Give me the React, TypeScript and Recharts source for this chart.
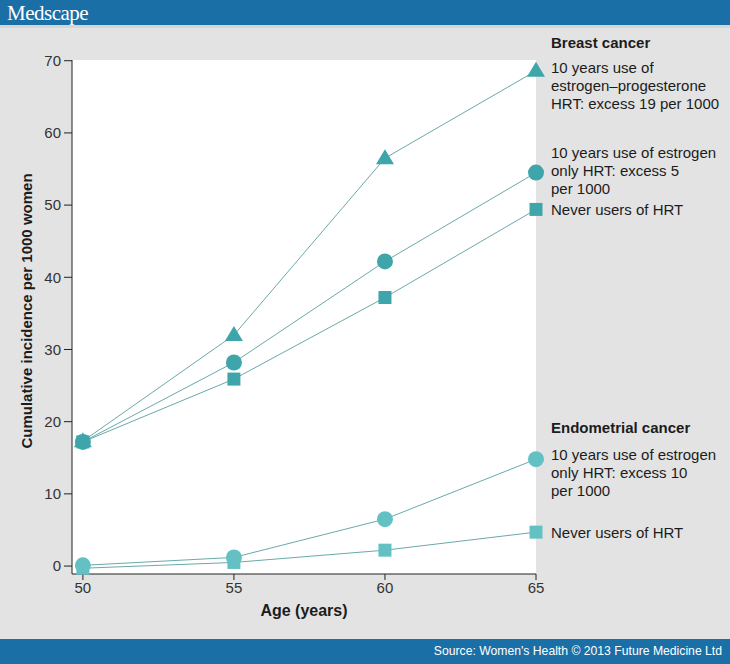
import React from 'react';
import { LineChart, Line, XAxis, YAxis, CartesianGrid } from 'recharts';

// age in years
const ages = [50, 55, 60, 65];

// cumulative incidence per 1000 women
const breastEstrogenProgesterone = [17.3, 32.0, 56.5, 68.6];
const breastEstrogenOnly = [17.2, 28.2, 42.2, 54.5];
const breastNever = [17.2, 25.9, 37.2, 49.4];
const endometrialEstrogenOnly = [0.1, 1.2, 6.5, 14.8];
const endometrialNever = [-0.3, 0.5, 2.2, 4.7];

const xTicks = [50, 55, 60, 65];
const yTicks = [0, 10, 20, 30, 40, 50, 60, 70];

const breastTitle = 'Breast cancer';
const breastEPNote = ['10 years use of', 'estrogen\u2013progesterone', 'HRT: excess 19 per 1000'];
const breastENote = ['10 years use of estrogen', 'only HRT: excess 5', 'per 1000'];
const neverNote = ['Never users of HRT'];
const endoTitle = 'Endometrial cancer';
const endoENote = ['10 years use of estrogen', 'only HRT: excess 10', 'per 1000'];

const rows = ages.map((age, i) => ({
  age,
  breastEP: breastEstrogenProgesterone[i],
  breastE: breastEstrogenOnly[i],
  breastNever: breastNever[i],
  endoE: endometrialEstrogenOnly[i],
  endoNever: endometrialNever[i],
}));

const BREAST = '#3ea6ab';
const ENDO = '#63c1c4';
const LINE = '#6aa9aa';
const FONT = '"Liberation Sans", Arial, Helvetica, sans-serif';

const triangleDot = (fill: string) => (p: any) => (
  <polygon
    key={`t-${p.index}`}
    points={`${p.cx},${p.cy - 9} ${p.cx + 9},${p.cy + 6} ${p.cx - 9},${p.cy + 6}`}
    fill={fill}
  />
);
const circleDot = (fill: string, r: number) => (p: any) => (
  <circle key={`c-${p.index}`} cx={p.cx} cy={p.cy} r={r} fill={fill} />
);
const squareDot = (fill: string, s: number) => (p: any) => (
  <rect key={`s-${p.index}`} x={p.cx - s / 2} y={p.cy - s / 2} width={s} height={s} fill={fill} />
);

const Note = ({ top, lines, bold }: { top: number; lines: string[]; bold?: boolean }) => (
  <div
    style={{
      position: 'absolute',
      left: 551,
      top,
      fontSize: 15,
      lineHeight: '18px',
      color: '#1c1c1c',
      fontWeight: bold ? 'bold' : 'normal',
      whiteSpace: 'nowrap',
    }}
  >
    {lines.map((l) => (
      <div key={l}>{l}</div>
    ))}
  </div>
);

const YLabel = (props: any) => {
  const vb = props.viewBox;
  const y = vb.y + vb.height / 2 - 6;
  return (
    <text
      x={26}
      y={y}
      transform={`rotate(-90, 26, ${y})`}
      textAnchor="middle"
      dominantBaseline="central"
      fontFamily={FONT}
      fontWeight="bold"
      fontSize={15}
      fill="#1c1c1c"
    >
      Cumulative incidence per 1000 women
    </text>
  );
};

export default function App() {
  return (
    <div
      style={{
        position: 'absolute',
        left: 0,
        top: 0,
        width: 730,
        height: 664,
        background: '#e3e3e3',
        fontFamily: FONT,
        overflow: 'hidden',
      }}
    >
      <div
        style={{
          position: 'absolute',
          left: 0,
          top: 0,
          width: 730,
          height: 25,
          background: '#1a6fa7',
          borderBottom: '3px solid #d6d6d6',
        }}
      >
        <span
          style={{
            position: 'absolute',
            left: 7,
            top: 1,
            color: '#fff',
            fontFamily: '"Liberation Serif", "DejaVu Serif", serif',
            fontSize: 21,
            letterSpacing: -0.5,
          }}
        >
          Medscape
        </span>
      </div>

      <div style={{ position: 'absolute', left: 0, top: 0 }}>
        <LineChart
          width={730}
          height={638}
          data={rows}
          margin={{ top: 60, right: 194, bottom: 14, left: 12 }}
        >
          <CartesianGrid fill="#ffffff" horizontal={false} vertical={false} stroke="none" />
          <XAxis
            dataKey="age"
            type="number"
            domain={[49.64, 65]}
            ticks={xTicks}
            height={50}
            axisLine={{ stroke: '#222' }}
            tickLine={{ stroke: '#222' }}
            tickSize={6}
            tickMargin={2}
            tick={{ fill: '#333', fontSize: 15, fontFamily: FONT }}
            label={{
              value: 'Age (years)',
              position: 'insideBottom',
              offset: 8,
              fill: '#1c1c1c',
              fontSize: 16,
              fontWeight: 'bold',
              fontFamily: FONT,
            }}
          />
          <YAxis
            type="number"
            domain={[-1.1, 70.1]}
            ticks={yTicks}
            width={60}
            axisLine={{ stroke: '#222' }}
            tickLine={{ stroke: '#222' }}
            tickSize={8}
            tickMargin={3}
            tick={{ fill: '#333', fontSize: 15, fontFamily: FONT }}
            label={<YLabel />}
          />
          <Line
            dataKey="endoNever"
            type="linear"
            stroke={LINE}
            strokeWidth={1}
            dot={squareDot(ENDO, 13)}
            activeDot={false}
            isAnimationActive={false}
          />
          <Line
            dataKey="endoE"
            type="linear"
            stroke={LINE}
            strokeWidth={1}
            dot={circleDot(ENDO, 8)}
            activeDot={false}
            isAnimationActive={false}
          />
          <Line
            dataKey="breastNever"
            type="linear"
            stroke={LINE}
            strokeWidth={1}
            dot={squareDot(BREAST, 13)}
            activeDot={false}
            isAnimationActive={false}
          />
          <Line
            dataKey="breastEP"
            type="linear"
            stroke={LINE}
            strokeWidth={1}
            dot={triangleDot(BREAST)}
            activeDot={false}
            isAnimationActive={false}
          />
          <Line
            dataKey="breastE"
            type="linear"
            stroke={LINE}
            strokeWidth={1}
            dot={circleDot(BREAST, 8)}
            activeDot={false}
            isAnimationActive={false}
          />
        </LineChart>
      </div>

      <Note top={34} lines={[breastTitle]} bold />
      <Note top={59} lines={breastEPNote} />
      <Note top={144} lines={breastENote} />
      <Note top={201} lines={neverNote} />
      <Note top={419} lines={[endoTitle]} bold />
      <Note top={446} lines={endoENote} />
      <Note top={524} lines={neverNote} />

      <div
        style={{
          position: 'absolute',
          left: 0,
          top: 639,
          width: 730,
          height: 25,
          background: '#1a6fa7',
        }}
      >
        <span
          style={{
            position: 'absolute',
            right: 8,
            top: 5,
            color: '#fff',
            fontSize: 12.2,
          }}
        >
          Source: Women's Health © 2013 Future Medicine Ltd
        </span>
      </div>
    </div>
  );
}
